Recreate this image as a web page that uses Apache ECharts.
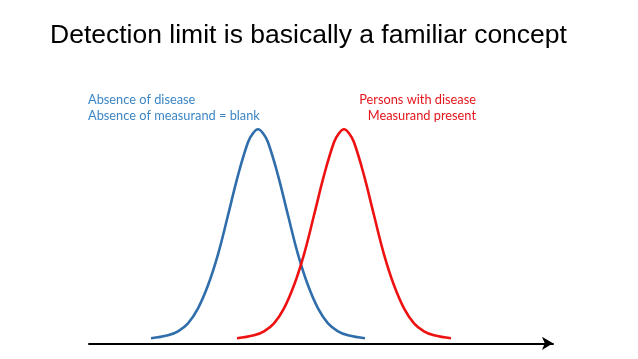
<!DOCTYPE html>
<html><head><meta charset="utf-8">
<script src="https://cdn.jsdelivr.net/npm/echarts@6/dist/echarts.min.js"></script>
<style>html,body{margin:0;padding:0;background:#fff}#c{width:638px;height:359px}</style>
</head><body><div id="c"></div>
<script>
// Values (x in horizontal units, y = height above the axis)
const blankX = [151, 168, 178, 188, 198, 208, 218, 228, 238, 248, 253, 258, 263, 268, 278, 288, 298, 308, 318, 328, 338, 348, 365];
const blankY = [5, 8, 12, 20, 35, 58, 89, 128, 168, 201, 210, 214, 210, 201, 168, 128, 89, 58, 35, 20, 12, 8, 5];
const diseaseX = [237, 254, 264, 274, 284, 294, 304, 314, 324, 334, 339, 344, 349, 354, 364, 374, 384, 394, 404, 414, 424, 434, 451];
const diseaseY = [5, 8, 12, 20, 35, 58, 89, 128, 168, 201, 210, 214, 210, 201, 168, 128, 89, 58, 35, 20, 12, 8, 5];
const titleText = 'Detection limit is basically a familiar concept';
const blankLabels = ['Absence of disease', 'Absence of measurand = blank'];
const diseaseLabels = ['Persons with disease', 'Measurand present'];

const chart = echarts.init(document.getElementById('c'), null, {renderer: 'canvas'});
const zip = (xs, ys) => xs.map((x, i) => [x, ys[i]]);
const labelFont = '12.8px Lato';
chart.setOption({
  animation: false,
  backgroundColor: '#ffffff',
  title: {
    text: titleText, left: 50, top: 22, padding: 0,
    textStyle: {fontFamily: 'Liberation Sans', fontSize: 26.5, fontWeight: 'normal', color: '#000'}
  },
  grid: {left: 89, right: 85, top: 123.3, bottom: 15.7},
  xAxis: {
    type: 'value', min: 89, max: 553,
    axisLine: {show: true, lineStyle: {color: '#000', width: 2}, symbol: ['none', 'arrow'], symbolSize: [10, 11], onZero: false},
    axisTick: {show: false}, axisLabel: {show: false}, splitLine: {show: false}
  },
  yAxis: {type: 'value', min: 0, max: 220, show: false, splitLine: {show: false}},
  graphic: [
    {type: 'text', left: 88, top: 93, style: {text: blankLabels[0], fill: '#3d86c6', font: labelFont}},
    {type: 'text', left: 88, top: 109, style: {text: blankLabels[1], fill: '#3d86c6', font: labelFont}},
    {type: 'text', right: 162, top: 93, style: {text: diseaseLabels[0], fill: '#e3161c', font: labelFont}},
    {type: 'text', right: 162, top: 109, style: {text: diseaseLabels[1], fill: '#e3161c', font: labelFont}}
  ],
  series: [
    {type: 'line', data: zip(blankX, blankY), smooth: 0.4, showSymbol: false, lineStyle: {color: '#2f6eab', width: 2.6}},
    {type: 'line', data: zip(diseaseX, diseaseY), smooth: 0.4, showSymbol: false, lineStyle: {color: '#ee1111', width: 2.6}}
  ]
});
</script></body></html>
